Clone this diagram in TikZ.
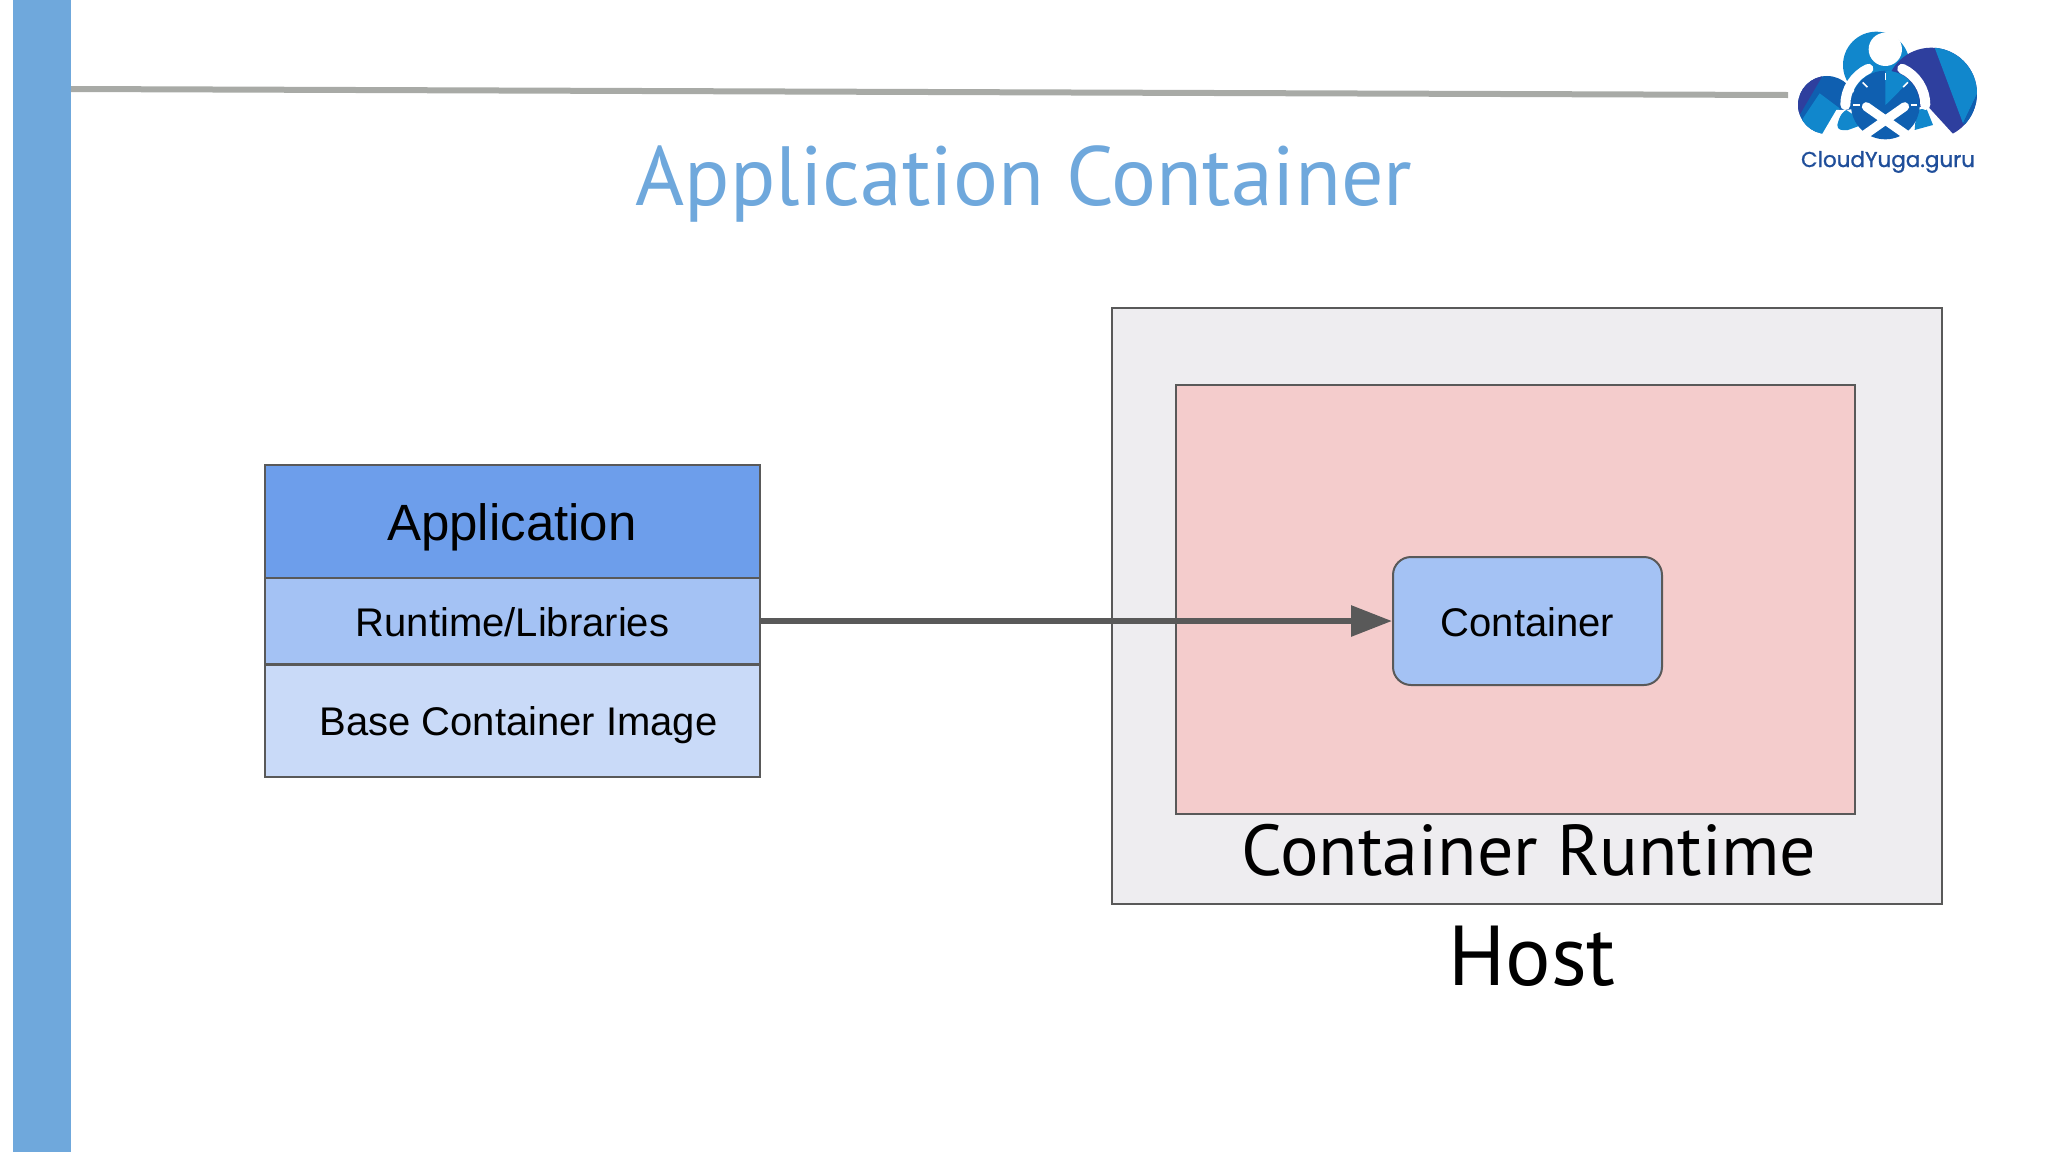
\documentclass[tikz,border=0pt]{standalone}
\usepackage{fontspec}
\usepackage{tikz}
\usetikzlibrary{arrows.meta}
\setmainfont{Liberation Sans}
\newfontfamily\headfont{PT Sans}
\newfontfamily\logofont[FakeBold=1.2]{Poppins}
\definecolor{barblue}{HTML}{6FA8DC}
\definecolor{appblue}{HTML}{6D9EEB}
\definecolor{libblue}{HTML}{A4C2F4}
\definecolor{baseblue}{HTML}{C9DAF8}
\definecolor{rulegray}{HTML}{A8AAA6}
\definecolor{edgegray}{HTML}{595959}
\definecolor{hostgray}{HTML}{EEEDF0}
\definecolor{runtimepink}{HTML}{F4CCCC}
\definecolor{logodark}{HTML}{0F5FB0}
\definecolor{logomid}{HTML}{1187CC}
\definecolor{logoink}{HTML}{2E3F9E}
\definecolor{logotext}{HTML}{1F4E9A}

\begin{document}
\begin{tikzpicture}[
  x=1pt, y=-1pt,
  >=Stealth,
  box/.style={draw=edgegray, line width=2pt, inner sep=0pt, anchor=north west},
  lab/.style={inner sep=0pt, anchor=base},
  link/.style={-{Triangle[length=41pt, width=30pt]}, draw=edgegray, line width=6pt}
]
\useasboundingbox (0,0) rectangle (2048,1152);

% Slide furniture
\fill[barblue] (13,0) rectangle (71,1152);
\draw[rulegray, line width=6pt] (71,89) -- (1788,95);
\node[lab, text=barblue, font=\headfont\fontsize{84}{84}\selectfont] (title) at (1024,205) {Application Container};

% Image stack
\node[box, fill=appblue, minimum width=495pt, minimum height=113pt] (app) at (263.5,464) {};
\node[box, fill=libblue, minimum width=495pt, minimum height=86pt] (lib) at (263.5,577) {};
\node[box, fill=baseblue, minimum width=495pt, minimum height=112pt] (base) at (263.5,664) {};
\node[lab, font=\fontsize{51}{51}\selectfont] (applab) at (512,540) {Application};
\node[lab, font=\fontsize{40}{40}\selectfont] (liblab) at (512.5,636) {Runtime/Libraries};
\node[lab, font=\fontsize{40}{40}\selectfont] (baselab) at (518.5,735) {Base Container Image};

% Host side
\node[box, fill=hostgray, minimum width=830pt, minimum height=596pt] (host) at (1111,307) {};
\node[box, fill=runtimepink, minimum width=679pt, minimum height=429pt] (runtime) at (1175,384) {};
\node[box, fill=libblue, rounded corners=18pt, minimum width=269pt, minimum height=128pt] (container) at (1392,556) {};
\node[lab, font=\fontsize{40}{40}\selectfont] (conlab) at (1527.5,636) {Container};
\node[lab, font=\headfont\fontsize{72}{72}\selectfont] (runlab) at (1529,875) {Container Runtime};
\node[lab, font=\headfont\fontsize{85}{85}\selectfont] (hostlab) at (1532,985) {Host};

\draw[link] (lib.east |- container.west) -- (container.west);

% Logo
\begin{scope}[shift={(1748,10)}, scale=0.3333]
  \fill[logomid] (385,165) circle (100);
  \fill[logodark] (237,285) circle (87);
  \begin{scope}
    \clip (237,285) circle (87);
    \fill[logoink] (140,340) -- (228,190) -- (140,190) -- cycle;
    \fill[logomid] (165,325) -- (215,250) -- (275,295) -- (215,390) -- (150,390) -- cycle;
  \end{scope}
  \fill[logoink] (550,250) circle (137);
  \begin{scope}
    \clip (550,250) circle (137);
    \fill[logomid] (555,100) -- (700,100) -- (700,225) -- (645,340) -- cycle;
    \fill[logodark] (700,225) -- (645,340) -- (700,380) -- cycle;
  \end{scope}
  % bottom of the cloud
  \fill[white] (215,385) -- (265,300) -- (540,290) -- (615,372) -- (700,372) -- (700,430) -- (140,430) -- (140,385) -- cycle;
  \fill[logomid] (268,345) .. controls (275,315) and (285,305) .. (295,300) -- (355,340) -- (300,360) .. controls (280,362) and (268,360) .. cycle;
  \fill[logomid] (505,300) -- (535,295) -- (555,345) -- (500,360) -- cycle;
  % clock
  \fill[logodark] (412,285) circle (103);
  \fill[logomid] (412,182) arc (-90:-45:103) -- (420,278) -- (412,285) -- cycle;
  \foreach \ang in {-90,-45,-135,180,0} {
    \draw[white, line width=1.6pt] (412,285) ++(\ang:76) -- ++(\ang:20);
  }
  \fill[white] (412,118) circle (50);
  \draw[white, line width=10pt, line cap=round] (292,285) arc (180:245:120);
  \draw[white, line width=10pt, line cap=round] (532,285) arc (0:-65:120);
  \draw[white, line width=9pt, line cap=round] (355,290) -- (480,378);
  \draw[white, line width=9pt, line cap=round] (470,290) -- (345,378);
\end{scope}
\node[lab, text=logotext, font=\logofont\fontsize{21.5}{21.5}\selectfont] (logolab) at (1888,167) {CloudYuga.guru};
\end{tikzpicture}
\end{document}
